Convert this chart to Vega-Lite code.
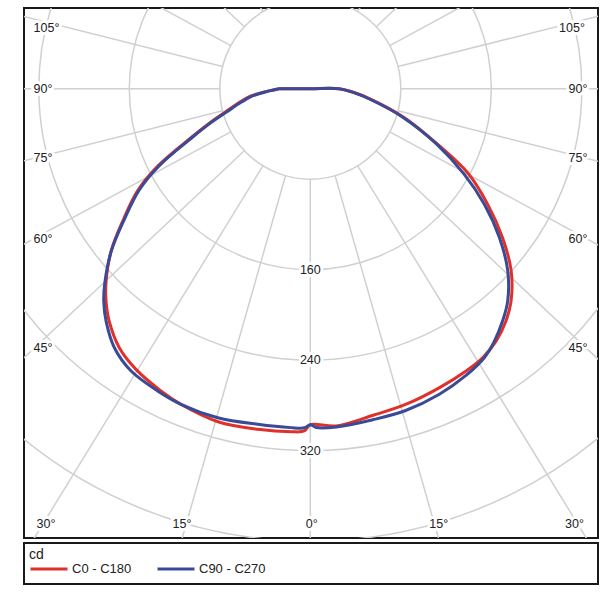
{
  "$schema": "https://vega.github.io/schema/vega-lite/v6.json",
  "padding": {"left": 20, "top": 7, "right": 0, "bottom": 0},
  "background": "white",
  "spacing": 0,
  "config": {
    "font": "Liberation Sans",
    "view": {"stroke": "#1a1a1a", "strokeWidth": 2},
    "concat": {"spacing": 0}
  },
  "datasets": {
    "rings": [{"r": 80}, {"r": 160}, {"r": 240}, {"r": 320}, {"r": 400}],
    "spokes": [{"a": 0}, {"a": 15.91}, {"a": 31.56}, {"a": 46.77}, {"a": 61.51}, {"a": 75.86}, {"a": 90}, {"a": 104.14}, {"a": 118.49}, {"a": 133.23}, {"a": 148.44}, {"a": 164.09}, {"a": 180}, {"a": -15.91}, {"a": -31.56}, {"a": -46.77}, {"a": -61.51}, {"a": -75.86}, {"a": -90}, {"a": -104.14}, {"a": -118.49}, {"a": -133.23}, {"a": -148.44}, {"a": -164.09}],
    "ticks": [
      {"t": "105°", "gx": -233.2, "gy": 53.9},
      {"t": "90°", "gx": -236.3, "gy": 0},
      {"t": "75°", "gx": -236.3, "gy": -61.3},
      {"t": "60°", "gx": -236.3, "gy": -132.9},
      {"t": "45°", "gx": -236.3, "gy": -229.2},
      {"t": "105°", "gx": 231.3, "gy": 53.9},
      {"t": "90°", "gx": 236.6, "gy": 0},
      {"t": "75°", "gx": 236.6, "gy": -61.3},
      {"t": "60°", "gx": 236.6, "gy": -132.9},
      {"t": "45°", "gx": 236.6, "gy": -229.2},
      {"t": "30°", "gx": -233.6, "gy": -384.5},
      {"t": "15°", "gx": -113.4, "gy": -384.5},
      {"t": "0°", "gx": 1.3, "gy": -384.5},
      {"t": "15°", "gx": 113.6, "gy": -384.5},
      {"t": "30°", "gx": 233.5, "gy": -384.5},
      {"t": "160", "gx": 0, "gy": -160},
      {"t": "240", "gx": 0, "gy": -240},
      {"t": "320", "gx": 0, "gy": -320}
    ],
    "series": [{"s": "C0 - C180"}, {"s": "C90 - C270"}],
    "curves": [
      {"s": "C0 - C180", "k": 0, "a": -90, "v": 27.7},
      {"s": "C0 - C180", "k": 1, "a": -87, "v": 37},
      {"s": "C0 - C180", "k": 2, "a": -83, "v": 52.8},
      {"s": "C0 - C180", "k": 3, "a": -79, "v": 64},
      {"s": "C0 - C180", "k": 4, "a": -74.4, "v": 78.9},
      {"s": "C0 - C180", "k": 5, "a": -71, "v": 95},
      {"s": "C0 - C180", "k": 6, "a": -67.7, "v": 114},
      {"s": "C0 - C180", "k": 7, "a": -63.1, "v": 151.2},
      {"s": "C0 - C180", "k": 8, "a": -59.4, "v": 177.4},
      {"s": "C0 - C180", "k": 9, "a": -54.8, "v": 202.9},
      {"s": "C0 - C180", "k": 10, "a": -50.8, "v": 227.2},
      {"s": "C0 - C180", "k": 11, "a": -46.7, "v": 248},
      {"s": "C0 - C180", "k": 12, "a": -43.9, "v": 260.4},
      {"s": "C0 - C180", "k": 13, "a": -40.9, "v": 271.6},
      {"s": "C0 - C180", "k": 14, "a": -36.4, "v": 284.5},
      {"s": "C0 - C180", "k": 15, "a": -31.9, "v": 292},
      {"s": "C0 - C180", "k": 16, "a": -26.3, "v": 298},
      {"s": "C0 - C180", "k": 17, "a": -22.3, "v": 301.5},
      {"s": "C0 - C180", "k": 18, "a": -15.5, "v": 305.5},
      {"s": "C0 - C180", "k": 19, "a": -8.8, "v": 304.6},
      {"s": "C0 - C180", "k": 20, "a": -3.2, "v": 303.7},
      {"s": "C0 - C180", "k": 21, "a": -1, "v": 302.6},
      {"s": "C0 - C180", "k": 22, "a": 0, "v": 297},
      {"s": "C0 - C180", "k": 23, "a": 4.4, "v": 299},
      {"s": "C0 - C180", "k": 24, "a": 10.9, "v": 294},
      {"s": "C0 - C180", "k": 25, "a": 16.9, "v": 291.5},
      {"s": "C0 - C180", "k": 26, "a": 23.3, "v": 287.9},
      {"s": "C0 - C180", "k": 27, "a": 28.9, "v": 285},
      {"s": "C0 - C180", "k": 28, "a": 32.7, "v": 282.4},
      {"s": "C0 - C180", "k": 29, "a": 36.4, "v": 277},
      {"s": "C0 - C180", "k": 30, "a": 40.1, "v": 268.5},
      {"s": "C0 - C180", "k": 31, "a": 43.4, "v": 258.3},
      {"s": "C0 - C180", "k": 32, "a": 47.8, "v": 239.7},
      {"s": "C0 - C180", "k": 33, "a": 52.2, "v": 215.1},
      {"s": "C0 - C180", "k": 34, "a": 56.9, "v": 187.2},
      {"s": "C0 - C180", "k": 35, "a": 61.9, "v": 157.7},
      {"s": "C0 - C180", "k": 36, "a": 66.4, "v": 122.9},
      {"s": "C0 - C180", "k": 37, "a": 72.9, "v": 87},
      {"s": "C0 - C180", "k": 38, "a": 80.1, "v": 54.5},
      {"s": "C0 - C180", "k": 39, "a": 85, "v": 39},
      {"s": "C0 - C180", "k": 40, "a": 90, "v": 25.4},
      {"s": "C0 - C180", "k": 41, "a": 180, "v": 0},
      {"s": "C0 - C180", "k": 42, "a": -90, "v": 27.7},
      {"s": "C90 - C270", "k": 0, "a": -90, "v": 27.7},
      {"s": "C90 - C270", "k": 1, "a": -87, "v": 36},
      {"s": "C90 - C270", "k": 2, "a": -83, "v": 51},
      {"s": "C90 - C270", "k": 3, "a": -79, "v": 62},
      {"s": "C90 - C270", "k": 4, "a": -74.4, "v": 77},
      {"s": "C90 - C270", "k": 5, "a": -71, "v": 93.5},
      {"s": "C90 - C270", "k": 6, "a": -67.7, "v": 112},
      {"s": "C90 - C270", "k": 7, "a": -63.1, "v": 149},
      {"s": "C90 - C270", "k": 8, "a": -59.4, "v": 175.5},
      {"s": "C90 - C270", "k": 9, "a": -54.8, "v": 201.5},
      {"s": "C90 - C270", "k": 10, "a": -50.8, "v": 227},
      {"s": "C90 - C270", "k": 11, "a": -46.7, "v": 249.5},
      {"s": "C90 - C270", "k": 12, "a": -44.2, "v": 261.9},
      {"s": "C90 - C270", "k": 13, "a": -41.3, "v": 273.5},
      {"s": "C90 - C270", "k": 14, "a": -37.1, "v": 287.1},
      {"s": "C90 - C270", "k": 15, "a": -32.4, "v": 295.6},
      {"s": "C90 - C270", "k": 16, "a": -26.8, "v": 299.3},
      {"s": "C90 - C270", "k": 17, "a": -22.3, "v": 301.5},
      {"s": "C90 - C270", "k": 18, "a": -15.7, "v": 302.1},
      {"s": "C90 - C270", "k": 19, "a": -8.9, "v": 300.3},
      {"s": "C90 - C270", "k": 20, "a": -3.3, "v": 300.1},
      {"s": "C90 - C270", "k": 21, "a": -1, "v": 299.8},
      {"s": "C90 - C270", "k": 22, "a": 0, "v": 297},
      {"s": "C90 - C270", "k": 23, "a": 1, "v": 299.5},
      {"s": "C90 - C270", "k": 24, "a": 4.4, "v": 299.9},
      {"s": "C90 - C270", "k": 25, "a": 10.7, "v": 297.8},
      {"s": "C90 - C270", "k": 26, "a": 16.5, "v": 296.7},
      {"s": "C90 - C270", "k": 27, "a": 22.9, "v": 293.2},
      {"s": "C90 - C270", "k": 28, "a": 28.5, "v": 288.4},
      {"s": "C90 - C270", "k": 29, "a": 33, "v": 283},
      {"s": "C90 - C270", "k": 30, "a": 36.1, "v": 276.2},
      {"s": "C90 - C270", "k": 31, "a": 39.6, "v": 266.6},
      {"s": "C90 - C270", "k": 32, "a": 42.9, "v": 256.3},
      {"s": "C90 - C270", "k": 33, "a": 47.3, "v": 237.5},
      {"s": "C90 - C270", "k": 34, "a": 51.8, "v": 212.7},
      {"s": "C90 - C270", "k": 35, "a": 56.4, "v": 184.7},
      {"s": "C90 - C270", "k": 36, "a": 60.9, "v": 155.8},
      {"s": "C90 - C270", "k": 37, "a": 66.4, "v": 121.4},
      {"s": "C90 - C270", "k": 38, "a": 72.9, "v": 85.5},
      {"s": "C90 - C270", "k": 39, "a": 80.1, "v": 53},
      {"s": "C90 - C270", "k": 40, "a": 85, "v": 38},
      {"s": "C90 - C270", "k": 41, "a": 90, "v": 25.4},
      {"s": "C90 - C270", "k": 42, "a": 180, "v": 0},
      {"s": "C90 - C270", "k": 43, "a": -90, "v": 27.7}
    ]
  },
  "resolve": {"scale": {"color": "independent"}, "legend": {"color": "independent"}},
  "vconcat": [
    {
      "width": 574,
      "height": 530,
      "layer": [
        {
          "data": {"name": "rings"},
          "mark": {"type": "arc", "filled": false, "stroke": "#d0d0d0", "strokeWidth": 1.5, "clip": true, "theta": 0, "theta2": 6.2832},
          "encoding": {
            "x": {"datum": 0, "type": "quantitative", "scale": {"domain": [-253.08, 254.31], "nice": false, "zero": false}, "axis": null},
            "y": {"datum": 0, "type": "quantitative", "scale": {"domain": [-397.17, 71.34], "nice": false, "zero": false}, "axis": null},
            "radius": {"field": "r", "type": "quantitative", "stack": null, "scale": {"type": "linear", "domain": [0, 400], "range": [0, 452.5], "zero": true}}
          }
        },
        {
          "data": {"name": "spokes"},
          "transform": [
            {"calculate": "80*sin(datum.a*PI/180)", "as": "px"},
            {"calculate": "-80*cos(datum.a*PI/180)", "as": "py"},
            {"calculate": "700*sin(datum.a*PI/180)", "as": "px2"},
            {"calculate": "-700*cos(datum.a*PI/180)", "as": "py2"}
          ],
          "mark": {"type": "rule", "stroke": "#d0d0d0", "strokeWidth": 1.5, "clip": true},
          "encoding": {
            "x": {"field": "px", "type": "quantitative", "scale": {"domain": [-253.08, 254.31], "nice": false, "zero": false}, "axis": null},
            "y": {"field": "py", "type": "quantitative", "scale": {"domain": [-397.17, 71.34], "nice": false, "zero": false}, "axis": null},
            "x2": {"field": "px2"},
            "y2": {"field": "py2"}
          }
        },
        {
          "data": {"name": "curves"},
          "transform": [
            {"calculate": "datum.v*sin(datum.a*PI/180)", "as": "px"},
            {"calculate": "-datum.v*cos(datum.a*PI/180)", "as": "py"}
          ],
          "mark": {"type": "line", "strokeWidth": 3, "clip": true, "strokeJoin": "round", "interpolate": "catmull-rom"},
          "encoding": {
            "x": {"field": "px", "type": "quantitative", "scale": {"domain": [-253.08, 254.31], "nice": false, "zero": false}, "axis": null},
            "y": {"field": "py", "type": "quantitative", "scale": {"domain": [-397.17, 71.34], "nice": false, "zero": false}, "axis": null},
            "order": {"field": "k", "type": "quantitative"},
            "color": {"field": "s", "type": "nominal", "scale": {"domain": ["C0 - C180", "C90 - C270"], "range": ["#e0302b", "#394a97"]}, "legend": null}
          }
        },
        {
          "data": {"name": "ticks"},
          "mark": {"type": "text", "fontSize": 12.5, "fill": "white", "stroke": "white", "strokeWidth": 6, "strokeJoin": "round", "align": "center", "baseline": "middle"},
          "encoding": {
            "x": {"field": "gx", "type": "quantitative", "scale": {"domain": [-253.08, 254.31], "nice": false, "zero": false}, "axis": null},
            "y": {"field": "gy", "type": "quantitative", "scale": {"domain": [-397.17, 71.34], "nice": false, "zero": false}, "axis": null},
            "text": {"field": "t", "type": "nominal"}
          }
        },
        {
          "data": {"name": "ticks"},
          "mark": {"type": "text", "fontSize": 12.5, "color": "#222222", "align": "center", "baseline": "middle"},
          "encoding": {
            "x": {"field": "gx", "type": "quantitative", "scale": {"domain": [-253.08, 254.31], "nice": false, "zero": false}, "axis": null},
            "y": {"field": "gy", "type": "quantitative", "scale": {"domain": [-397.17, 71.34], "nice": false, "zero": false}, "axis": null},
            "text": {"field": "t", "type": "nominal"}
          }
        }
      ]
    },
    {
      "width": 574,
      "height": 41,
      "data": {"name": "series"},
      "mark": {"type": "point", "opacity": 0},
      "encoding": {
        "x": {"datum": 0, "type": "quantitative", "axis": null},
        "y": {"datum": 0, "type": "quantitative", "axis": null},
        "color": {
          "field": "s",
          "type": "nominal",
          "scale": {"domain": ["C0 - C180", "C90 - C270"], "range": ["#e0302b", "#394a97"]},
          "legend": {
            "title": "cd",
            "orient": "top-left",
            "direction": "horizontal",
            "offset": 5,
            "padding": 0,
            "symbolType": "stroke",
            "symbolSize": 1369,
            "symbolStrokeWidth": 3,
            "symbolOpacity": 1,
            "titleFontSize": 14,
            "titleFontWeight": "normal",
            "titleColor": "#222222",
            "titlePadding": -13,
            "labelFontSize": 13,
            "labelColor": "#222222",
            "labelOffset": 3,
            "columnPadding": 19
          }
        }
      }
    }
  ]
}
